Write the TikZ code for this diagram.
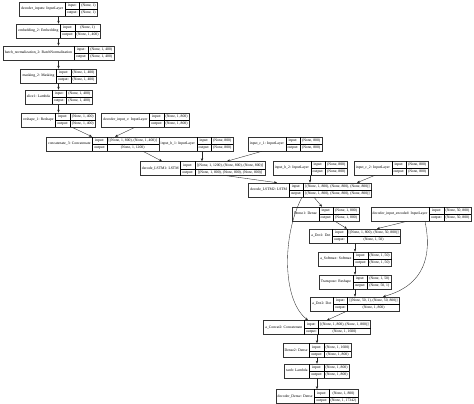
\documentclass[tikz,border=0pt]{standalone}
\usepackage{fontspec}
\setmainfont{Liberation Serif}
\usepackage{multirow}
\usetikzlibrary{arrows.meta}
\setlength\tabcolsep{1.9pt}
\setlength\arrayrulewidth{0.3pt}
\renewcommand\arraystretch{1.55}
\newcommand\kcell[3]{\begin{tabular}{c|c|c}\multirow{2}{*}{#1} & input: & #2\\\cline{2-3} & output: & #3\end{tabular}}
\begin{document}
\begin{tikzpicture}[x=1pt,y=-1pt,
  kbox/.style={draw=black!80, line width=0.3pt, inner sep=0pt, font=\fontsize{3.75}{4.6}\selectfont},
  arr/.style={-{Stealth[length=3pt,width=2.4pt]}, line width=0.35pt, draw=black!85}]
\useasboundingbox (0,0) rectangle (474,404);
\node[kbox] (din) at (58.5,9) {\kcell{decoder\_inputs: InputLayer}{(None, 1)}{(None, 1)}};
\node[kbox] (emb) at (58.5,31) {\kcell{embedding\_2: Embedding}{(None, 1)}{(None, 1, 400)}};
\node[kbox] (bn) at (58.5,53) {\kcell{batch\_normalization\_2: BatchNormalization}{(None, 1, 400)}{(None, 1, 400)}};
\node[kbox] (msk) at (58.5,76) {\kcell{masking\_2: Masking}{(None, 1, 400)}{(None, 1, 400)}};
\node[kbox] (slc) at (58.5,97) {\kcell{slice1: Lambda}{(None, 1, 400)}{(None, 1, 400)}};
\node[kbox] (rsh) at (58.5,120) {\kcell{reshape\_1: Reshape}{(None, 1, 400)}{(None, 1, 400)}};
\node[kbox] (dic) at (145.5,120) {\kcell{decoder\_input\_c: InputLayer}{(None, 1, 800)}{(None, 1, 800)}};
\node[kbox] (cat3) at (102.5,144) {\kcell{concatenate\_3: Concatenate}{[(None, 1, 800), (None, 1, 400)]}{(None, 1, 1200)}};
\node[kbox] (ih1) at (196,144) {\kcell{input\_h\_1: InputLayer}{(None, 800)}{(None, 800)}};
\node[kbox] (ic1) at (285,144) {\kcell{input\_c\_1: InputLayer}{(None, 800)}{(None, 800)}};
\node[kbox] (ls1) at (202.5,168.5) {\kcell{decode\_LSTM1: LSTM}{[(None, 1, 1200), (None, 800), (None, 800)]}{[(None, 1, 800), (None, 800), (None, 800)]}};
\node[kbox] (ih2) at (310,168) {\kcell{input\_h\_2: InputLayer}{(None, 800)}{(None, 800)}};
\node[kbox] (ic2) at (391,168) {\kcell{input\_c\_2: InputLayer}{(None, 800)}{(None, 800)}};
\node[kbox] (ls2) at (310,190) {\kcell{decode\_LSTM2: LSTM}{[(None, 1, 800), (None, 800), (None, 800)]}{[(None, 1, 800), (None, 800), (None, 800)]}};
\node[kbox] (d1) at (325.5,214) {\kcell{Dense1: Dense}{(None, 1, 800)}{(None, 1, 800)}};
\node[kbox] (die) at (421,214) {\kcell{decoder\_input\_encoded: InputLayer}{(None, 50, 800)}{(None, 50, 800)}};
\node[kbox] (dot1) at (355,236) {\kcell{a\_Dot1: Dot}{[(None, 1, 800), (None, 50, 800)]}{(None, 1, 50)}};
\node[kbox] (sm) at (355,259) {\kcell{a\_Softmax: Softmax}{(None, 1, 50)}{(None, 1, 50)}};
\node[kbox] (tr) at (355,282) {\kcell{Transpose: Reshape}{(None, 1, 50)}{(None, 50, 1)}};
\node[kbox] (dot2) at (355,304) {\kcell{a\_Dot2: Dot}{[(None, 50, 1), (None, 50, 800)]}{(None, 1, 800)}};
\node[kbox] (cat2) at (317,327.5) {\kcell{a\_Concat2: Concatenate}{[(None, 1, 800), (None, 1, 800)]}{(None, 1, 1600)}};
\node[kbox] (d2) at (317,350.5) {\kcell{Dense2: Dense}{(None, 1, 1600)}{(None, 1, 800)}};
\node[kbox] (th) at (317,371) {\kcell{tanh: Lambda}{(None, 1, 800)}{(None, 1, 800)}};
\node[kbox] (dd) at (317,396.5) {\kcell{decoder\_Dense: Dense}{(None, 1, 800)}{(None, 1, 17342)}};
% edges
\draw[arr] (din.south) -- (emb.north);
\draw[arr] (emb.south) -- (bn.north);
\draw[arr] (bn.south) -- (msk.north);
\draw[arr] (msk.south) -- (slc.north);
\draw[arr] (slc.south) -- (rsh.north);
\draw[arr] ([xshift=13.5pt]rsh.south) -- ([xshift=-10.5pt]cat3.north);
\draw[arr] ([xshift=-10.5pt]dic.south) -- ([xshift=12.5pt]cat3.north);
\draw[arr] ([xshift=40.5pt]cat3.south) -- ([xshift=-40.5pt]ls1.north);
\draw[arr] ([xshift=6pt]ih1.south) -- ([xshift=-0.5pt]ls1.north);
\draw[arr] ([xshift=-23pt]ic1.south) -- ([xshift=24.5pt]ls1.north);
\draw[arr] ([xshift=24.5pt]ls1.south) -- ([xshift=-33pt]ls2.north);
\draw[arr] (ih2.south) -- (ls2.north);
\draw[arr] ([xshift=-16pt]ic2.south) -- ([xshift=47pt]ls2.north);
\draw[arr] ([xshift=4pt]ls2.south) -- ([xshift=-3.5pt]d1.north);
\draw[arr] ([xshift=-8pt]ls2.south) .. controls (282,235) and (282,300) .. ([xshift=-9pt]cat2.north);
\draw[arr] ([xshift=9.5pt]d1.south) -- ([xshift=-8pt]dot1.north);
\draw[arr] ([xshift=-14pt]die.south) -- ([xshift=22pt]dot1.north);
\draw[arr] ([xshift=4pt]die.south) .. controls (432,255) and (425,285) .. ([xshift=28pt]dot2.north);
\draw[arr] (dot1.south) -- (sm.north);
\draw[arr] (sm.south) -- (tr.north);
\draw[arr] (tr.south) -- (dot2.north);
\draw[arr] ([xshift=-8.5pt]dot2.south) -- ([xshift=10pt]cat2.north);
\draw[arr] (cat2.south) -- (d2.north);
\draw[arr] (d2.south) -- (th.north);
\draw[arr] (th.south) -- (dd.north);
\end{tikzpicture}
\end{document}
